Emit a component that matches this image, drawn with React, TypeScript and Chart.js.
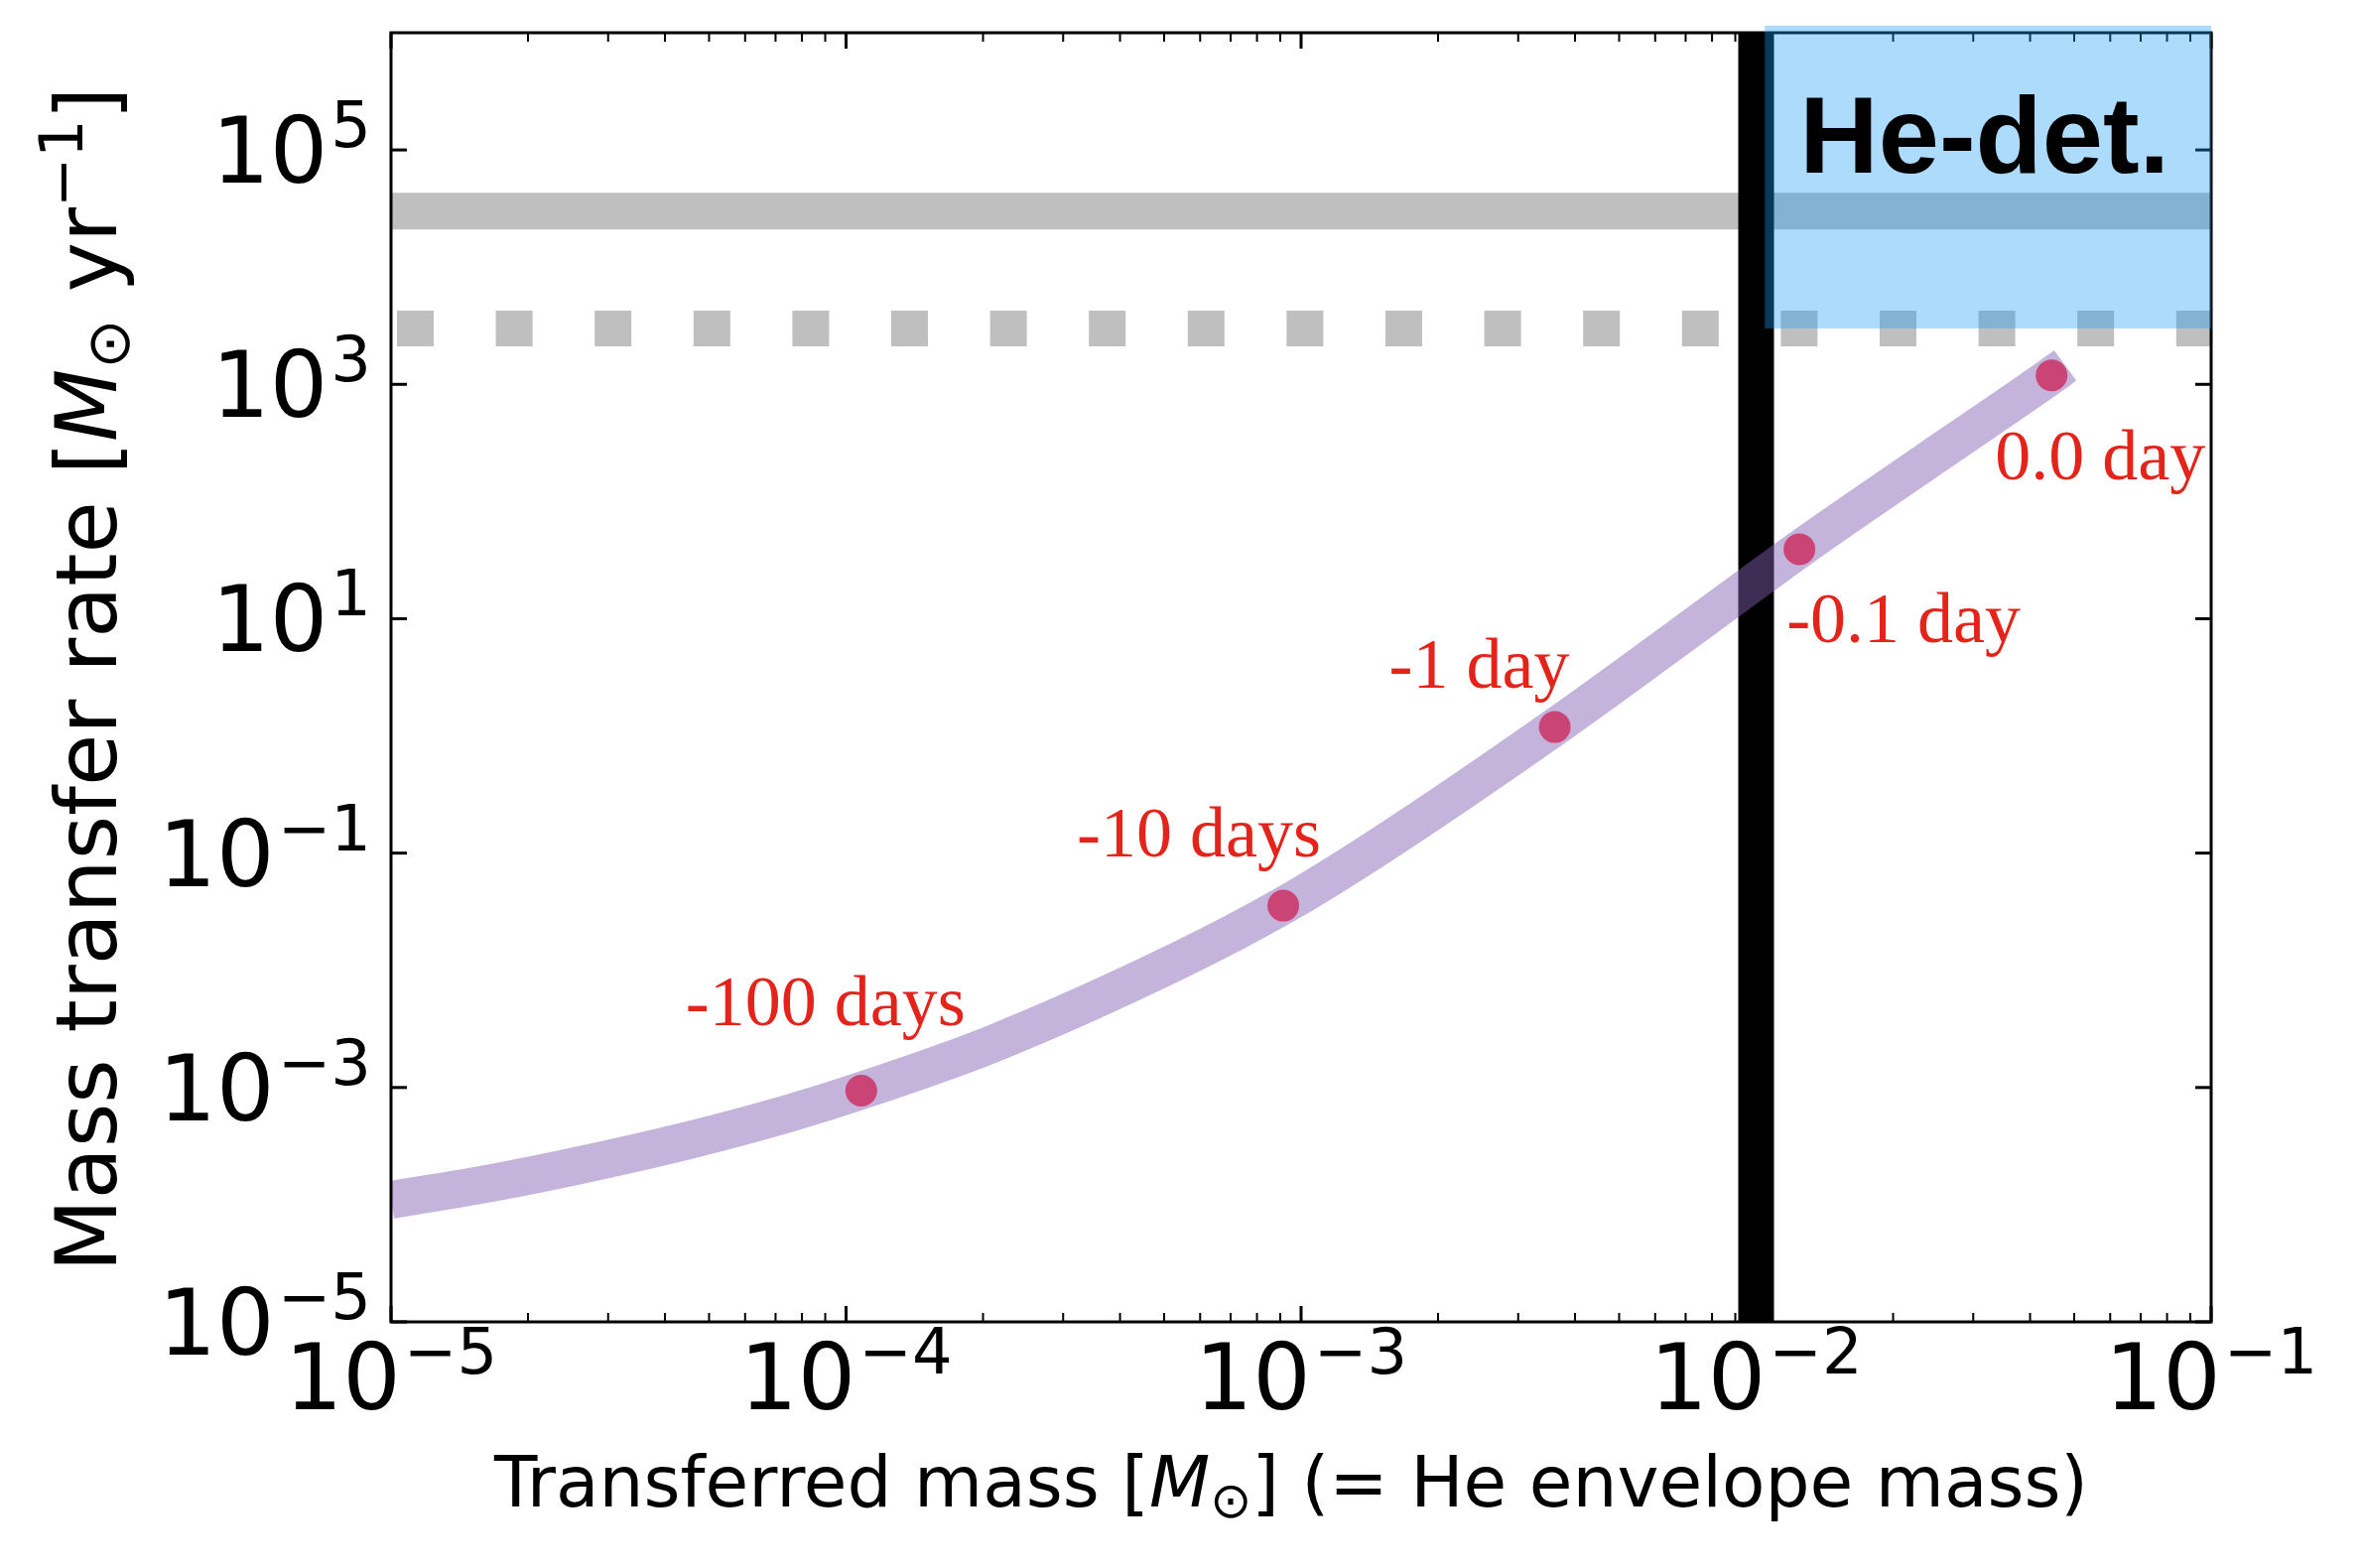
import React, { useEffect, useRef } from 'react';
import { Chart, registerables } from 'chart.js';

Chart.register(...registerables);

const W = 2380;
const H = 1580;

// Model track: transferred mass [Msun] vs. mass transfer rate [Msun/yr]
const TRACK_MASS = [1e-5, 1.66e-5, 2.74e-5, 4.53e-5, 7.5e-5, 1.08e-4, 2.1e-4, 5.45e-4, 9.14e-4, 1.49e-3, 3.61e-3, 6.71e-3, 1.245e-2, 2.36e-2, 4.46e-2, 4.78e-2];
const TRACK_RATE = [1.1e-4, 1.53e-4, 2.27e-4, 3.56e-4, 6.03e-4, 9.4e-4, 2.36e-3, 1.24e-2, 3.56e-2, 0.115, 1.19, 6.78, 39.2, 218, 1191, 1449];

// Epochs before the detonation marked on the track
const EPOCH_LABELS = ['-100 days', '-10 days', '-1 day', '-0.1 day', '0.0 day'];
const EPOCH_MASS = [1.08e-4, 9.14e-4, 3.61e-3, 1.245e-2, 4.46e-2];
const EPOCH_RATE = [9.4e-4, 3.56e-2, 1.19, 39.2, 1191];

// Reference rates and the He detonation condition
const RATE_SOLID = 3e4;
const RATE_DOTTED = 3e3;
const HE_DET_MASS = 0.01;
const HE_DET_BOX_MASS = [0.01045, 0.1];
const HE_DET_BOX_RATE = [3e3, 1.15e6];
const HE_DET_TEXT = 'He-det.';

// Axes
const X_RANGE = [1e-5, 1e-1];
const Y_RANGE = [1e-5, 1e6];
const X_MAJOR = [1e-5, 1e-4, 1e-3, 1e-2, 1e-1];
const X_TICK_EXP = ['\u22125', '\u22124', '\u22123', '\u22122', '\u22121'];
const Y_MAJOR = [1e-5, 1e-3, 1e-1, 1e1, 1e3, 1e5];
const Y_TICK_EXP = ['\u22125', '\u22123', '\u22121', '1', '3', '5'];

// label placement relative to each epoch marker (px)
const EPOCH_LABEL_OFFSET = [
  [-177, -66],
  [-208, -50],
  [-167, -40],
  [-13, 94],
  [-57, 105],
];

const SANS = '"DejaVu Sans", sans-serif';
const SERIF = '"Liberation Serif", "Times New Roman", serif';
const HELV = '"Liberation Sans", Arial, sans-serif';

type Run = { t: string; size: number; italic?: boolean; dy?: number; gap?: number };

function runFont(r: Run) {
  return `${r.italic ? 'italic ' : ''}${r.size}px ${SANS}`;
}

function runsWidth(ctx: CanvasRenderingContext2D, runs: Run[]) {
  let w = 0;
  for (const r of runs) {
    ctx.font = runFont(r);
    w += ctx.measureText(r.t).width + (r.gap || 0);
  }
  return w;
}

function drawRuns(ctx: CanvasRenderingContext2D, runs: Run[], x: number, y: number) {
  let cx = x;
  for (const r of runs) {
    cx += r.gap || 0;
    ctx.font = runFont(r);
    ctx.fillText(r.t, cx, y + (r.dy || 0));
    cx += ctx.measureText(r.t).width;
  }
}

function powerLabel(exp: string): Run[] {
  return [
    { t: '10', size: 92 },
    { t: exp, size: 64, dy: -36, gap: 3 },
  ];
}

const background = {
  id: 'background',
  beforeDraw(chart: any) {
    const { ctx } = chart;
    ctx.save();
    ctx.fillStyle = '#ffffff';
    ctx.fillRect(0, 0, chart.width, chart.height);
    ctx.restore();
  },
};

const decorations = {
  id: 'decorations',
  afterDatasetsDraw(chart: any) {
    const { ctx, chartArea: a } = chart;
    const xs = chart.scales.x;
    const ys = chart.scales.y;
    ctx.save();

    // frame
    ctx.strokeStyle = '#000';
    ctx.lineWidth = 3;
    ctx.strokeRect(a.left, a.top, a.right - a.left, a.bottom - a.top);

    const seg = (x1: number, y1: number, x2: number, y2: number, w: number) => {
      ctx.lineWidth = w;
      ctx.beginPath();
      ctx.moveTo(x1, y1);
      ctx.lineTo(x2, y2);
      ctx.stroke();
    };

    // inward ticks on all four sides
    X_MAJOR.forEach((v) => {
      const px = xs.getPixelForValue(v);
      seg(px, a.bottom, px, a.bottom - 16, 3);
      seg(px, a.top, px, a.top + 16, 3);
    });
    for (let d = -5; d < -1; d++) {
      for (let m = 2; m <= 9; m++) {
        const px = xs.getPixelForValue(m * Math.pow(10, d));
        seg(px, a.bottom, px, a.bottom - 9, 2);
        seg(px, a.top, px, a.top + 9, 2);
      }
    }
    Y_MAJOR.forEach((v) => {
      const py = ys.getPixelForValue(v);
      seg(a.left, py, a.left + 16, py, 3);
      seg(a.right, py, a.right - 16, py, 3);
    });

    // He detonation region
    const bx0 = xs.getPixelForValue(HE_DET_BOX_MASS[0]);
    const bx1 = xs.getPixelForValue(HE_DET_BOX_MASS[1]);
    const by0 = ys.getPixelForValue(HE_DET_BOX_RATE[0]);
    const by1 = ys.getPixelForValue(HE_DET_BOX_RATE[1]);
    ctx.fillStyle = 'rgba(28,154,243,0.36)';
    ctx.fillRect(bx0, by1, bx1 - bx0, by0 - by1);
    ctx.fillStyle = '#000';
    ctx.font = `bold 110px ${HELV}`;
    ctx.textBaseline = 'alphabetic';
    ctx.textAlign = 'left';
    ctx.fillText(HE_DET_TEXT, bx0 + 35, by1 + 148);

    // epoch labels
    ctx.font = `72px ${SERIF}`;
    ctx.fillStyle = '#e4241a';
    EPOCH_LABELS.forEach((t, i) => {
      const px = xs.getPixelForValue(EPOCH_MASS[i]);
      const py = ys.getPixelForValue(EPOCH_RATE[i]);
      const [ox, oy] = EPOCH_LABEL_OFFSET[i];
      ctx.fillText(t, px + ox, py + oy);
    });
    ctx.restore();
  },
  afterDraw(chart: any) {
    const { ctx, chartArea: a } = chart;
    const xs = chart.scales.x;
    const ys = chart.scales.y;
    ctx.save();
    ctx.fillStyle = '#000';
    ctx.textAlign = 'left';
    ctx.textBaseline = 'alphabetic';

    // tick labels
    X_MAJOR.forEach((v, i) => {
      const runs = powerLabel(X_TICK_EXP[i]);
      const w = runsWidth(ctx, runs);
      drawRuns(ctx, runs, xs.getPixelForValue(v) - w / 2, a.bottom + 88);
    });
    Y_MAJOR.forEach((v, i) => {
      const runs = powerLabel(Y_TICK_EXP[i]);
      const w = runsWidth(ctx, runs);
      drawRuns(ctx, runs, a.left - 20 - w, ys.getPixelForValue(v) + 33);
    });

    // x-axis title
    const xTitle: Run[] = [
      { t: 'Transferred mass [', size: 71 },
      { t: 'M', size: 71, italic: true },
      { t: '\u2299', size: 50, dy: 11 },
      { t: '] (= He envelope mass)', size: 71 },
    ];
    const xw = runsWidth(ctx, xTitle);
    drawRuns(ctx, xTitle, (a.left + a.right) / 2 - 10 - xw / 2, a.bottom + 186);

    // y-axis title
    const yTitle: Run[] = [
      { t: 'Mass transfer rate [', size: 85 },
      { t: 'M', size: 85, italic: true },
      { t: '\u2299', size: 60, dy: 13 },
      { t: ' yr', size: 85 },
      { t: '\u22121', size: 60, dy: -34 },
      { t: ']', size: 85 },
    ];
    const yw = runsWidth(ctx, yTitle);
    ctx.translate(117, (a.top + a.bottom) / 2 + 2);
    ctx.rotate(-Math.PI / 2);
    drawRuns(ctx, yTitle, -yw / 2, 0);
    ctx.restore();
  },
};

export default function App() {
  const ref = useRef<HTMLCanvasElement>(null);

  useEffect(() => {
    const canvas = ref.current;
    if (!canvas) return;
    const track = TRACK_MASS.map((m, i) => ({ x: m, y: TRACK_RATE[i] }));
    const epochs = EPOCH_MASS.map((m, i) => ({ x: m, y: EPOCH_RATE[i] }));

    const chart = new Chart(canvas, {
      type: 'line',
      data: {
        datasets: [
          {
            label: 'epochs',
            data: epochs,
            showLine: false,
            pointRadius: 16,
            pointBackgroundColor: '#cb4476',
            pointBorderWidth: 0,
            order: 1,
          },
          {
            label: 'track',
            data: track,
            borderColor: 'rgba(130,95,180,0.47)',
            borderWidth: 38,
            pointRadius: 0,
            cubicInterpolationMode: 'monotone',
            clip: 0,
            order: 2,
          },
          {
            label: 'He detonation',
            data: [
              { x: HE_DET_MASS, y: Y_RANGE[0] },
              { x: HE_DET_MASS, y: Y_RANGE[1] },
            ],
            borderColor: '#000000',
            borderWidth: 36,
            pointRadius: 0,
            clip: 0,
            order: 3,
          },
          {
            label: 'dotted rate',
            data: [
              { x: X_RANGE[0], y: RATE_DOTTED },
              { x: X_RANGE[1], y: RATE_DOTTED },
            ],
            borderColor: '#bfbfbf',
            borderWidth: 36,
            borderDash: [37, 62.6],
            borderDashOffset: 93.6,
            pointRadius: 0,
            clip: 0,
            order: 4,
          },
          {
            label: 'solid rate',
            data: [
              { x: X_RANGE[0], y: RATE_SOLID },
              { x: X_RANGE[1], y: RATE_SOLID },
            ],
            borderColor: '#bfbfbf',
            borderWidth: 37,
            pointRadius: 0,
            clip: 0,
            order: 5,
          },
        ],
      },
      options: {
        responsive: false,
        maintainAspectRatio: false,
        animation: false,
        devicePixelRatio: 1,
        events: [],
        layout: { padding: { left: 394, top: 33, right: 152, bottom: 248 } },
        scales: {
          x: { type: 'logarithmic', min: X_RANGE[0], max: X_RANGE[1], display: false },
          y: { type: 'logarithmic', min: Y_RANGE[0], max: Y_RANGE[1], display: false },
        },
        plugins: {
          legend: { display: false },
          tooltip: { enabled: false },
        },
      } as any,
      plugins: [background, decorations],
    });

    return () => chart.destroy();
  }, []);

  return (
    <div style={{ position: 'absolute', left: 0, top: 0, width: W, height: H, background: '#ffffff' }}>
      <canvas ref={ref} width={W} height={H} style={{ display: 'block', width: W, height: H }} />
    </div>
  );
}
